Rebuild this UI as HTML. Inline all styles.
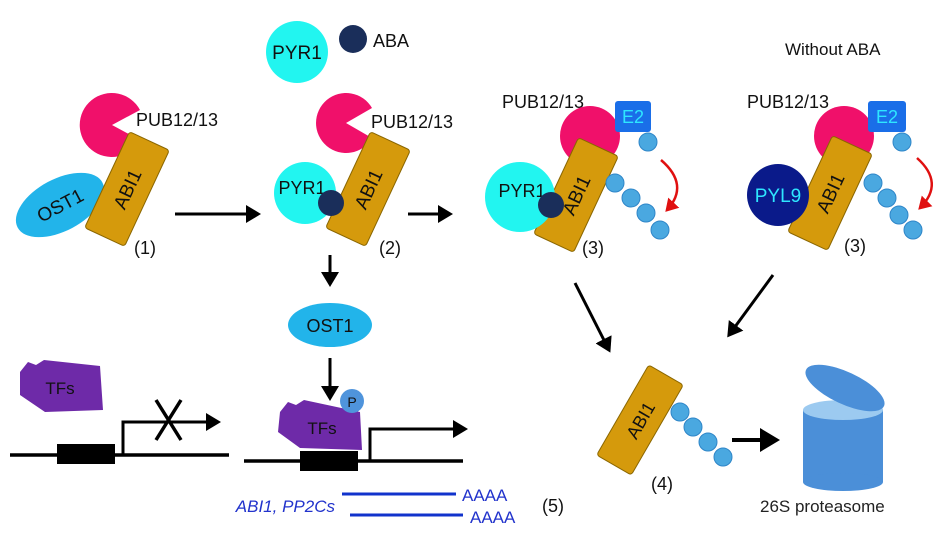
<!DOCTYPE html>
<html><head><meta charset="utf-8"><style>
html,body{margin:0;padding:0;background:#fff;}
svg{display:block;}
text{font-family:"Liberation Sans","Noto Sans CJK SC",sans-serif;}
</style></head><body>
<svg width="952" height="540" viewBox="0 0 952 540" xmlns="http://www.w3.org/2000/svg">
<defs>
<marker id="ah" markerWidth="6" markerHeight="6" refX="4" refY="3" orient="auto" markerUnits="strokeWidth"><path d="M0,0 L5,3 L0,6 Z" fill="#000"/></marker>
<marker id="ahr" markerWidth="6" markerHeight="6" refX="4" refY="3" orient="auto" markerUnits="strokeWidth"><path d="M0,0 L5,3 L0,6 Z" fill="#e01010"/></marker>
</defs>

<!-- top PYR1 + ABA -->
<circle cx="297" cy="52" r="31" fill="#22f5f0"/>
<text x="297" y="59" font-size="19" text-anchor="middle" fill="#111">PYR1</text>
<circle cx="353" cy="39" r="14" fill="#1a2e5a"/>
<text x="373" y="47" font-size="18" fill="#111">ABA</text>
<text x="785" y="55" font-size="17" fill="#111">Without ABA</text>

<!-- Panel 1 -->
<path d="M112,125 L140,110 A32,32 0 1 0 140,140 Z" fill="#f0106a"/>
<text x="136" y="126" font-size="18" fill="#111">PUB12/13</text>
<ellipse cx="60" cy="205" rx="48" ry="26" transform="rotate(-28 60 205)" fill="#22b4ea"/>
<text x="60" y="212" font-size="19" text-anchor="middle" transform="rotate(-28 60 205)" fill="#111">OST1</text>
<g transform="translate(127,189) rotate(25)"><rect x="-22" y="-53" width="44" height="106" rx="3" fill="#d59a0c" stroke="#8a6600" stroke-width="1"/><text x="0" y="7" font-size="19" text-anchor="middle" transform="rotate(-90)" fill="#111">ABI1</text></g>
<text x="145" y="254" font-size="18" text-anchor="middle" fill="#111">(1)</text>
<line x1="175" y1="214" x2="258" y2="214" stroke="#000" stroke-width="3" marker-end="url(#ah)"/>

<!-- Panel 2 -->
<path d="M346,123 L372,108 A30,30 0 1 0 372,138 Z" fill="#f0106a"/>
<text x="371" y="128" font-size="18" fill="#111">PUB12/13</text>
<g transform="translate(368,189) rotate(25)"><rect x="-22" y="-53" width="44" height="106" rx="3" fill="#d59a0c" stroke="#8a6600" stroke-width="1"/><text x="0" y="7" font-size="19" text-anchor="middle" transform="rotate(-90)" fill="#111">ABI1</text></g>
<circle cx="305" cy="193" r="31" fill="#22f5f0"/>
<text x="302" y="194" font-size="18" text-anchor="middle" fill="#111">PYR1</text>
<circle cx="331" cy="203" r="13" fill="#1a2e5a"/>
<text x="390" y="254" font-size="18" text-anchor="middle" fill="#111">(2)</text>
<line x1="408" y1="214" x2="450" y2="214" stroke="#000" stroke-width="3" marker-end="url(#ah)"/>

<!-- Panel 3 -->
<text x="502" y="108" font-size="18" fill="#111">PUB12/13</text>
<circle cx="590" cy="136" r="30" fill="#f0106a"/>
<rect x="615" y="101" width="36" height="31" rx="3" fill="#1a6ee8"/>
<text x="633" y="123" font-size="18" text-anchor="middle" fill="#2ee6ff">E2</text>
<circle cx="648" cy="142" r="9" fill="#4aa8e0" stroke="#2f86c8"/>
<g transform="translate(576,195) rotate(25)"><rect x="-22" y="-53" width="44" height="106" rx="3" fill="#d59a0c" stroke="#8a6600" stroke-width="1"/><text x="0" y="7" font-size="19" text-anchor="middle" transform="rotate(-90)" fill="#111">ABI1</text></g>
<circle cx="520" cy="197" r="35" fill="#22f5f0"/>
<text x="522" y="197" font-size="18" text-anchor="middle" fill="#111">PYR1</text>
<circle cx="551" cy="205" r="13" fill="#1a2e5a"/>
<g fill="#4aa8e0" stroke="#2f86c8"><circle cx="615" cy="183" r="9"/><circle cx="631" cy="198" r="9"/><circle cx="646" cy="213" r="9"/><circle cx="660" cy="230" r="9"/></g>
<path d="M661,160 Q690,185 667,210" fill="none" stroke="#e01010" stroke-width="2.5" marker-end="url(#ahr)"/>
<text x="593" y="254" font-size="18" text-anchor="middle" fill="#111">(3)</text>

<!-- Panel 4 -->
<text x="747" y="108" font-size="18" fill="#111">PUB12/13</text>
<circle cx="844" cy="136" r="30" fill="#f0106a"/>
<rect x="868" y="101" width="38" height="31" rx="3" fill="#1a6ee8"/>
<text x="887" y="123" font-size="18" text-anchor="middle" fill="#2ee6ff">E2</text>
<circle cx="902" cy="142" r="9" fill="#4aa8e0" stroke="#2f86c8"/>
<g transform="translate(830,193) rotate(25)"><rect x="-22" y="-53" width="44" height="106" rx="3" fill="#d59a0c" stroke="#8a6600" stroke-width="1"/><text x="0" y="7" font-size="19" text-anchor="middle" transform="rotate(-90)" fill="#111">ABI1</text></g>
<circle cx="778" cy="195" r="31" fill="#0a1a8a"/>
<text x="778" y="202" font-size="19" text-anchor="middle" fill="#2ee6ff">PYL9</text>
<g fill="#4aa8e0" stroke="#2f86c8"><circle cx="873" cy="183" r="9"/><circle cx="887" cy="198" r="9"/><circle cx="899" cy="215" r="9"/><circle cx="913" cy="230" r="9"/></g>
<path d="M917,158 Q945,183 920,208" fill="none" stroke="#e01010" stroke-width="2.5" marker-end="url(#ahr)"/>
<text x="855" y="252" font-size="18" text-anchor="middle" fill="#111">(3)</text>

<!-- converging arrows -->
<line x1="575" y1="283" x2="609" y2="350" stroke="#000" stroke-width="3" marker-end="url(#ah)"/>
<line x1="773" y1="275" x2="729" y2="335" stroke="#000" stroke-width="3" marker-end="url(#ah)"/>

<!-- ABI1 4 -->
<g transform="translate(640,420) rotate(30)"><rect x="-20" y="-52" width="40" height="104" rx="3" fill="#d59a0c" stroke="#8a6600" stroke-width="1"/><text x="0" y="7" font-size="18" text-anchor="middle" transform="rotate(-90)" fill="#111">ABI1</text></g>
<g fill="#4aa8e0" stroke="#2f86c8"><circle cx="680" cy="412" r="9"/><circle cx="693" cy="427" r="9"/><circle cx="708" cy="442" r="9"/><circle cx="723" cy="457" r="9"/></g>
<text x="662" y="490" font-size="18" text-anchor="middle" fill="#111">(4)</text>
<line x1="732" y1="440" x2="776" y2="440" stroke="#000" stroke-width="4" marker-end="url(#ah)"/>
<!-- proteasome -->
<rect x="803" y="410" width="80" height="72" fill="#4b8fd8"/>
<ellipse cx="843" cy="482" rx="40" ry="9" fill="#4b8fd8"/>
<ellipse cx="843" cy="410" rx="40" ry="10" fill="#9ccaf0"/>
<ellipse cx="845" cy="388" rx="43" ry="16" transform="rotate(25 845 388)" fill="#4b8fd8"/>
<text x="760" y="512" font-size="17" fill="#222">26S proteasome</text>

<!-- vertical path panel2 -->
<line x1="330" y1="255" x2="330" y2="284" stroke="#000" stroke-width="3" marker-end="url(#ah)"/>
<ellipse cx="330" cy="325" rx="42" ry="22" fill="#22b4ea"/>
<text x="330" y="332" font-size="18" text-anchor="middle" fill="#111">OST1</text>
<line x1="330" y1="358" x2="330" y2="398" stroke="#000" stroke-width="3" marker-end="url(#ah)"/>

<!-- left gene -->
<path d="M20,372 L28,362 L36,365 L44,360 L100,366 L103,410 L45,412 L20,395 Z" fill="#6e2aa8"/>
<text x="60" y="394" font-size="17" text-anchor="middle" fill="#111">TFs</text>
<line x1="10" y1="455" x2="229" y2="455" stroke="#000" stroke-width="3.5"/>
<rect x="57" y="444" width="58" height="20" fill="#000"/>
<path d="M123,455 L123,422 L218,422" fill="none" stroke="#000" stroke-width="3" marker-end="url(#ah)"/>
<path d="M156,400 L181,440 M181,400 L156,440" stroke="#000" stroke-width="3.5"/>

<!-- middle gene -->
<line x1="244" y1="461" x2="463" y2="461" stroke="#000" stroke-width="3.5"/>
<rect x="300" y="451" width="58" height="20" fill="#000"/>
<path d="M280,412 L288,402 L296,405 L304,400 L360,412 L362,450 L300,448 L278,432 Z" fill="#6e2aa8"/>
<text x="322" y="434" font-size="17" text-anchor="middle" fill="#111">TFs</text>
<circle cx="352" cy="401" r="12" fill="#4f94dc"/>
<text x="352" y="407" font-size="14" text-anchor="middle" fill="#111">P</text>
<path d="M370,461 L370,429 L465,429" fill="none" stroke="#000" stroke-width="3" marker-end="url(#ah)"/>

<!-- mRNA -->
<text x="335" y="512" font-size="17" font-style="italic" text-anchor="end" fill="#2233cc">ABI1, PP2Cs</text>
<line x1="342" y1="494" x2="456" y2="494" stroke="#1133cc" stroke-width="3"/>
<line x1="350" y1="515" x2="463" y2="515" stroke="#1133cc" stroke-width="3"/>
<text x="462" y="501" font-size="17" fill="#2233cc">AAAA</text>
<text x="470" y="523" font-size="17" fill="#2233cc">AAAA</text>
<text x="542" y="512" font-size="18" fill="#111">(5)</text>
</svg>
</body></html>
